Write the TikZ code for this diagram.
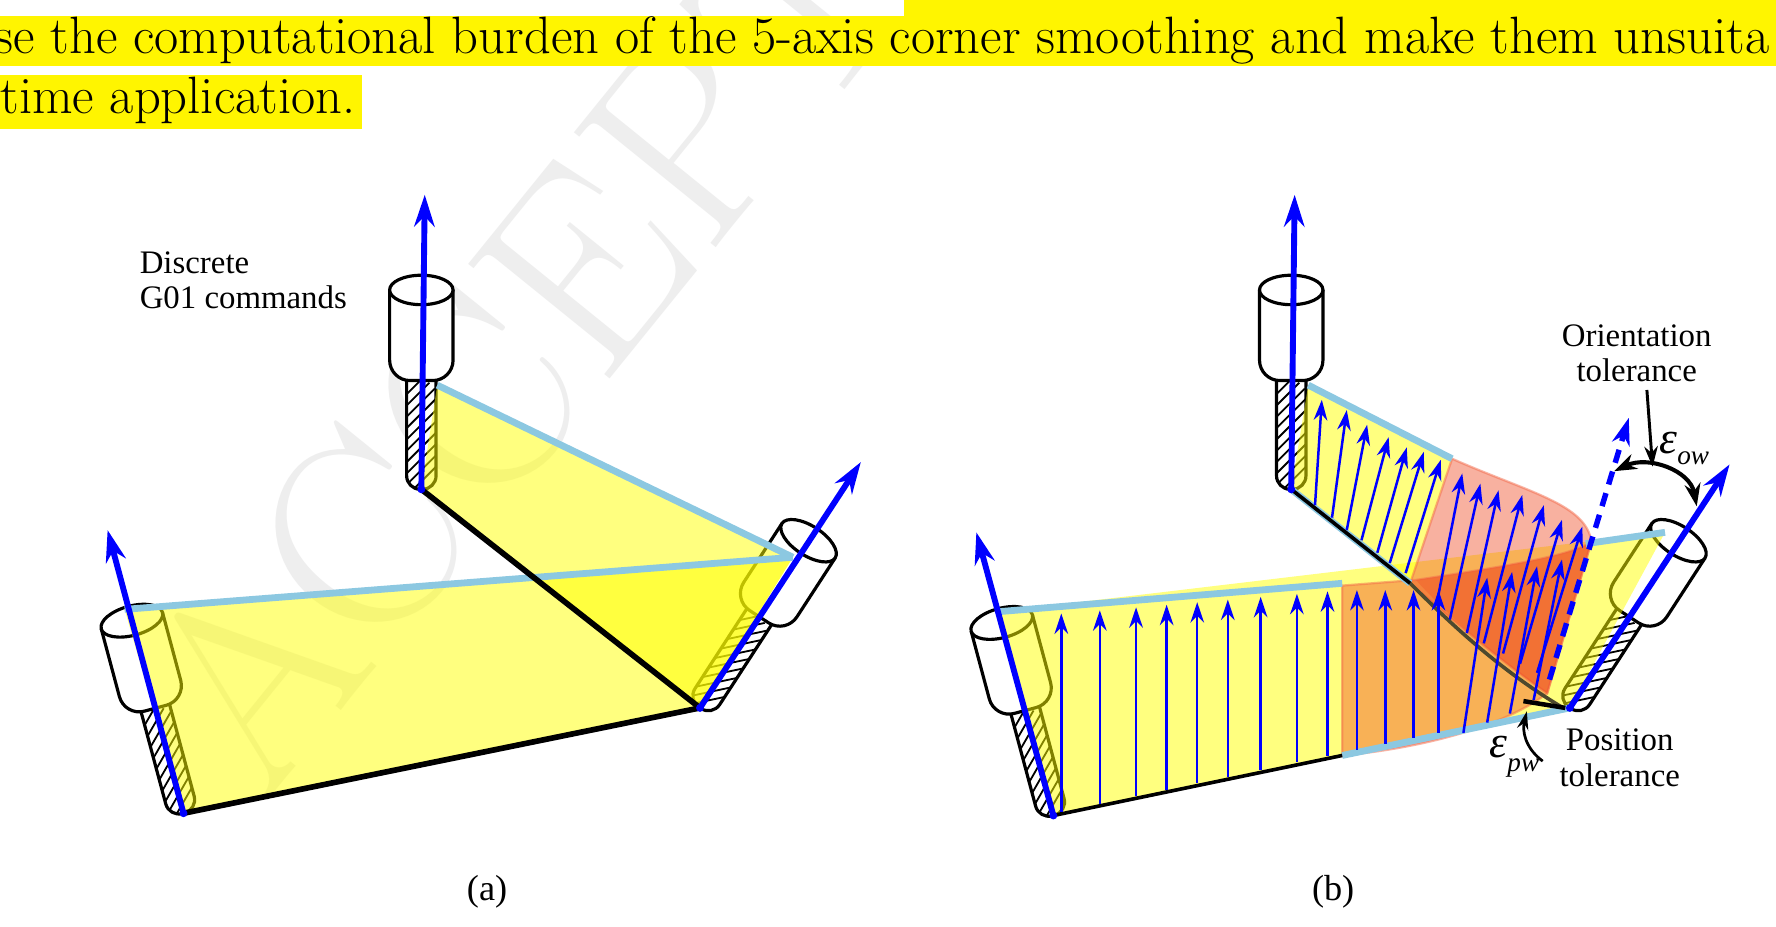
\documentclass[tikz,border=0pt]{standalone}
\usepackage{fontspec}
\newfontfamily\tms{Liberation Serif}
\usetikzlibrary{arrows.meta}
\definecolor{ly}{RGB}{255,255,0}
\definecolor{edge}{RGB}{140,200,225}
\definecolor{hl}{RGB}{255,245,0}
\definecolor{rd}{RGB}{240,70,30}
\tikzset{
 axisarr/.style={blue,line width=2.6,-{Stealth[length=14,width=9]}},
 smallarr/.style={blue,line width=1.1,-{Stealth[length=9,width=6]}},
 surf/.style={fill=ly,fill opacity=0.5},
 redsurf/.style={fill=rd,fill opacity=0.42,draw=rd!80,draw opacity=0.5,line width=1},
 bedge/.style={edge,line width=3},
 kedge/.style={black,line width=2.5},
 lbl/.style={font=\tms\fontsize{14.5}{15.5}\selectfont,align=center},
 captxt/.style={font=\tms\fontsize{16}{17}\selectfont},
}
\newcommand\mytool[3]{%
 \begin{scope}[shift={(#1,#2)},rotate=#3]
  \begin{scope}
   \clip[rounded corners=6] (-13,-96) -- (-13,0) -- (13,0) -- (13,-96) -- cycle;
   \fill[white] (-13,-96) rectangle (13,0);
   \foreach \k in {0,...,12}{\draw[line width=0.8] (-13,-\k*10+6) -- (13,-\k*10-20);}
  \end{scope}
  \draw[line width=1.4,rounded corners=6] (-13,-96) -- (-13,0) -- (13,0) -- (13,-96);
  \filldraw[fill=white,line width=1.4,rounded corners=9] (-28,-176) -- (-28,-96) -- (28,-96) -- (28,-176);
  \filldraw[fill=white,line width=1.4] (0,-176) ellipse [x radius=28,y radius=13];
 \end{scope}}
\begin{document}
\begin{tikzpicture}[x=0.5pt,y=-0.5pt]
\useasboundingbox (0,0) rectangle (1568,818);
\fill[white] (0,0) rectangle (1568,818);
% watermark
\node[anchor=west,rotate=51,text=gray!13,font=\fontsize{118}{118}\selectfont,inner sep=0] (wm) at (170,660) {ACCEPTED};
% top text
\fill[hl] (798,0) rectangle (1568,14);
\fill[hl] (0,14) rectangle (1568,58);
\fill[hl] (0,66) rectangle (320,114);
\node[anchor=base west,inner sep=0,font=\fontsize{23.2}{28}\selectfont] (t2) at (-5,47) {se the computational burden of the 5-axis corner smoothing and make them unsuita};
\node[anchor=base west,inner sep=0,font=\fontsize{23.2}{28}\selectfont] (t3) at (0,100) {time application.};
% ---------- panel (a)
\mytool{372}{432}{0}
\mytool{162}{718}{15}
\mytool{618}{625}{-33}
\fill[surf] (162,718) -- (618,625) -- (700,492) -- (110,538) -- cycle;
\fill[surf] (372,432) -- (386,340) -- (700,492) -- (618,625) -- cycle;
\draw[bedge] (110,538) -- (700,492);
\draw[bedge] (386,340) -- (700,492);
\draw[kedge] (372,432) -- (618,625);
\draw[kedge] (162,718) -- (618,625);
\coordinate (a1) at (372,432); \coordinate (a1t) at (375,172);
\coordinate (a2) at (162,718); \coordinate (a2t) at (95,468);
\coordinate (a3) at (618,625); \coordinate (a3t) at (760,408);
\draw[axisarr] (a1) -- (a1t);
\draw[axisarr] (a2) -- (a2t);
\draw[axisarr] (a3) -- (a3t);
\foreach \p in {a1,a2,a3}{\fill[blue] (\p) circle (3.5);}
\node[lbl,align=left,anchor=north west,inner sep=0] (disc) at (123,222) {Discrete\\G01 commands};
\node[captxt] (capa) at (430,787) {(a)};
% ---------- panel (b)
\mytool{1140}{432}{0}
\mytool{930}{720}{15}
\mytool{1386}{625}{-33}
\fill[surf] (930,720) -- (1386,625) -- (1470,470) -- (882,540) -- cycle;
\fill[surf] (1140,432) -- (1155,340) -- (1282,405) -- (1245,515) -- cycle;
\draw[redsurf] (1282,405) .. controls (1350,435) and (1400,445) .. (1405,478) -- (1366,612) .. controls (1320,580) and (1280,545) .. (1245,515) -- cycle;
\draw[redsurf] (1185,517) -- (1250,512) .. controls (1330,500) and (1390,490) .. (1405,478) -- (1366,612) .. controls (1330,640) and (1260,660) .. (1185,667) -- cycle;
\fill[rd,opacity=0.3] (1250,512) .. controls (1330,500) and (1390,490) .. (1405,478) -- (1366,612) .. controls (1320,580) and (1280,545) .. (1250,512);
\draw[bedge] (882,540) -- (1185,515);
\draw[bedge] (1400,480) -- (1470,470);
\draw[bedge] (1155,340) -- (1282,405);
\draw[bedge] (1185,667) -- (1386,625);
\draw[bedge] (1140,432) -- (1245,515);
\draw[kedge,line width=1.6] (930,720) -- (1185,667);
\draw[kedge,line width=1.6] (1140,432) -- (1245,515);
\draw[black!60!olive,line width=1.6] (1245,515) .. controls (1290,560) and (1330,595) .. (1380,625);
% small arrows lower band
\foreach \x in {937,971,1003,1030,1057,1084,1113,1145,1172}{
 \pgfmathsetmacro\yt{540-(\x-885)*0.0833+6}
 \pgfmathsetmacro\yb{720-(\x-930)*0.209-2}
 \draw[smallarr] (\x,\yb) -- (\x,\yt);}
\foreach \x in {1198,1223,1248,1270}{
 \pgfmathsetmacro\yb{720-(\x-930)*0.209-2}
 \draw[smallarr] (\x,\yb) -- (\x,521);}
\foreach \a/\b/\c/\d in {1292/647/1313/510,1313/638/1335/505,1333/630/1357/500,1354/618/1379/494}{
 \draw[smallarr] (\a,\b) -- (\c,\d);}
% upper band
\foreach \a/\b/\c/\d in {1161/446/1167/353,1176/457/1189/362,1189/468/1207/375,1202/477/1226/386,1216/488/1242/395,1227/497/1257/399,1241/506/1272/406,
 1269/530/1291/418,1280/547/1307/427,1295/559/1323/433,1310/568/1344/437,1327/577/1363/446,1342/586/1379/459,1357/594/1397/465}{
 \draw[smallarr] (\a,\b) -- (\c,\d);}
% dashed orientation
\coordinate (dd0) at (1368,600); \coordinate (dd1) at (1438,369);
\draw[blue,line width=2.4,dash pattern=on 6 off 4,-{Stealth[length=12,width=8]}] (dd0) -- (dd1);
\coordinate (b1) at (1140,432); \coordinate (b1t) at (1143,172);
\coordinate (b2) at (930,720); \coordinate (b2t) at (862,470);
\coordinate (b3) at (1386,625); \coordinate (b3t) at (1527,410);
\draw[axisarr] (b1) -- (b1t);
\draw[axisarr] (b2) -- (b2t);
\draw[axisarr] (b3) -- (b3t);
\foreach \p in {b1,b2,b3}{\fill[blue] (\p) circle (3.5);}
% tolerances
\node[lbl] (ot) at (1445,312) {Orientation\\tolerance};
\coordinate (otp) at (1459,412);
\draw[line width=1.3,-{Stealth[length=9,width=6]}] (ot.south) ++(9,0) -- (otp);
\draw[line width=1.8,{Stealth[length=10,width=7]}-{Stealth[length=10,width=7]}] (1425,416) .. controls (1455,402) and (1492,415) .. (1498,447);
\node[font=\tms\itshape\fontsize{20}{20}\selectfont,inner sep=0] (eow) at (1487,396) {ε\raisebox{-0.5ex}{\fontsize{12}{12}\selectfont ow}};
\node[lbl] (pt) at (1430,669) {Position\\tolerance};
\draw[line width=2] (1345,619) -- (1382,625);
\draw[line width=1.2,-{Stealth[length=8,width=5]}] (1362,672) .. controls (1346,660) and (1344,645) .. (1348,628);
\node[font=\tms\itshape\fontsize{20}{20}\selectfont,inner sep=0] (epw) at (1337,668) {ε\raisebox{-0.7ex}{\fontsize{12}{12}\selectfont pw}};
\node[captxt] (capb) at (1177,787) {(b)};
\end{tikzpicture}
\end{document}
